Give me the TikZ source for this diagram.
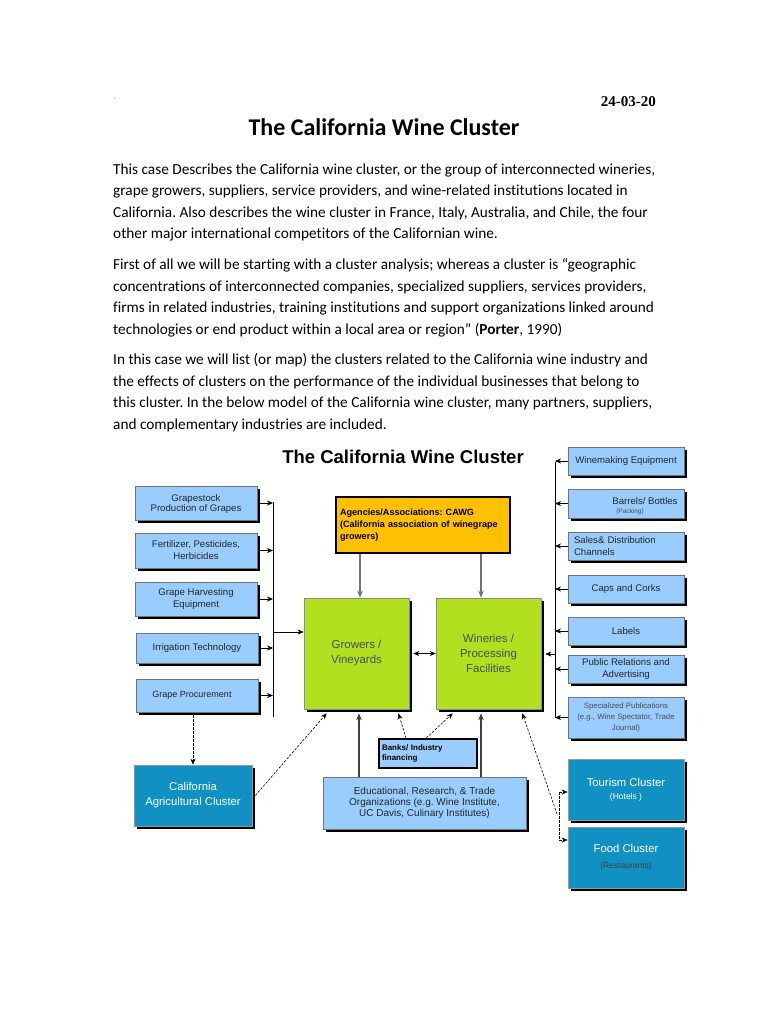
\documentclass[tikz,border=0pt]{standalone}
\usepackage{fontspec}
\setmainfont{Carlito}[Ligatures={NoCommon}]
\newfontfamily\arialf{Liberation Sans}
\newfontfamily\timesf{Liberation Serif}
\usetikzlibrary{shadows,arrows.meta,calc}
\definecolor{lblue}{HTML}{99CCFF}
\definecolor{tealc}{HTML}{1190C4}
\definecolor{lgreen}{HTML}{B0E01E}
\definecolor{orangec}{HTML}{FFC000}
\frenchspacing
\newcommand\bodyfont{\fontsize{15.3}{18}\selectfont}
\newcommand\bline[3]{\node[anchor=base west, inner sep=0pt, font=\bodyfont] (#1) at (113,#2) {#3};}
\tikzset{
  shad/.style={general shadow={fill=black, shadow xshift=3pt, shadow yshift=-3pt}},
  lb/.style={shad, draw=black!55, line width=0.6pt, fill=lblue, inner sep=0pt, align=center, text=black!85,
     font=\arialf\fontsize{9.6}{12}\selectfont},
  tl/.style={shad, draw=black!40, line width=0.6pt, fill=tealc, inner sep=0pt, align=center, text=white,
     font=\arialf\fontsize{11.3}{15}\selectfont},
  gbox/.style={shad, draw=black!45, line width=0.6pt, fill=lgreen, inner sep=0pt, align=center, text=black!70,
     font=\arialf\fontsize{11.5}{15}\selectfont},
  arr/.style={-{Stealth[length=6pt,width=5pt]}, line width=0.6pt},
  darr/.style={arr, dash pattern=on 2.5pt off 1.5pt},
  garr/.style={-{Stealth[length=7pt,width=5.5pt]}, draw=black!55, line width=1.1pt, fill=black!55},
  karr/.style={-{Stealth[length=7pt,width=5.5pt]}, draw=black!75, line width=1.1pt},
  txt/.style={inner sep=0pt}
}
\begin{document}
\begin{tikzpicture}[x=1pt,y=-1pt]
\useasboundingbox[fill=white] (0,0) rectangle (768,1024);

% header
\node[txt, font=\fontsize{7}{8}\selectfont, text=black!60] (tick) at (115,100) {`};
\node[txt, anchor=base east, font=\timesf\bfseries\fontsize{15}{17}\selectfont] (date) at (656,107) {24-03-20};
\node[txt, anchor=base, font=\bfseries\fontsize{24}{28}\selectfont] (title) at (384,136) {The California Wine Cluster};

% paragraph 1
\bline{p1a}{174.5}{This case Describes the California wine cluster, or the group of interconnected wineries,}
\bline{p1b}{196}{grape growers, suppliers, service providers, and wine-related institutions located in}
\bline{p1c}{217.5}{California. Also describes the wine cluster in France, Italy, Australia, and Chile, the four}
\bline{p1d}{239}{other major international competitors of the Californian wine.}
% paragraph 2
\bline{p2a}{269.5}{First of all we will be starting with a cluster analysis; whereas a cluster is “geographic}
\bline{p2b}{291}{concentrations of interconnected companies, specialized suppliers, services providers,}
\bline{p2c}{312.5}{firms in related industries, training institutions and support organizations linked around}
\bline{p2d}{334}{technologies or end product within a local area or region” (\textbf{Porter}, 1990)}
% paragraph 3
\bline{p3a}{364.5}{In this case we will list (or map) the clusters related to the California wine industry and}
\bline{p3b}{386}{the effects of clusters on the performance of the individual businesses that belong to}
\bline{p3c}{407.5}{this cluster. In the below model of the California wine cluster, many partners, suppliers,}
\bline{p3d}{429}{and complementary industries are included.}

% diagram title
\node[txt, anchor=base, font=\arialf\bfseries\fontsize{18.5}{22}\selectfont] (dtitle) at (403,463) {The California Wine Cluster};

% left boxes
\node[lb, minimum width=122pt, minimum height=34pt] (grape) at (196,503) {\rule{0pt}{8pt}Grapestock\\[-2pt]Production of Grapes};
\node[lb, minimum width=122pt, minimum height=35pt] (fert) at (196,550.5) {Fertilizer, Pesticides,\\Herbicides};
\node[lb, minimum width=122pt, minimum height=34pt] (harv) at (196,599) {Grape Harvesting\\Equipment};
\node[lb, minimum width=122pt, minimum height=30pt] (irrig) at (197,648) {Irrigation Technology};
\node[lb, minimum width=122pt, minimum height=33pt, font=\arialf\fontsize{9}{11}\selectfont] (procure) at (197,695.5) {Grape Procurement\hspace*{10pt}};
\node[tl, minimum width=118pt, minimum height=61pt] (ag) at (193,795.5) {California\\Agricultural Cluster};

% centre
\node[draw=black, line width=2pt, fill=orangec, minimum width=174pt, minimum height=56pt, inner sep=0pt,
      align=left, text width=166pt, font=\arialf\bfseries\fontsize{9.1}{12}\selectfont] (agencies) at (423,525)
      {Agencies/Associations: CAWG\\(California association of winegrape\\growers)\\[3pt]};
\node[gbox, minimum width=105pt, minimum height=111pt] (growers) at (356.5,653.5) {Growers /\\Vineyards};
\node[gbox, minimum width=105pt, minimum height=111pt] (wineries) at (488.5,653.5) {Wineries /\\Processing\\Facilities};
\node[draw=black, line width=1.8pt, fill=lblue, minimum width=98pt, minimum height=29pt, inner sep=0pt,
      align=left, text width=92pt, font=\arialf\bfseries\fontsize{8}{10}\selectfont] (banks) at (428,753.5)
      {Banks/ Industry\\financing};
\node[lb, minimum width=203pt, minimum height=52pt, font=\arialf\fontsize{10}{11.3}\selectfont] (educ) at (424.5,803)
      {Educational, Research, \& Trade\\Organizations (e.g. Wine Institute,\\UC Davis, Culinary Institutes)};

% right boxes
\node[lb, minimum width=116pt, minimum height=28pt] (wme) at (626,461) {Winemaking Equipment};
\node[lb, minimum width=116pt, minimum height=29pt] (barrels) at (626,503.5) {};
\node[txt, font=\arialf\fontsize{9.6}{11}\selectfont, text=black!85] (barrelsT) at (645,501) {Barrels/ Bottles};
\node[txt, font=\arialf\fontsize{6.5}{7}\selectfont, text=black!70] (packT) at (630,512) {(Packing)};
\node[lb, minimum width=116pt, minimum height=28pt, align=left, text width=104pt] (sales) at (626,546) {Sales\& Distribution\\Channels};
\node[lb, minimum width=116pt, minimum height=28pt] (caps) at (626,589) {Caps and Corks};
\node[lb, minimum width=116pt, minimum height=28pt] (labels) at (626,631) {Labels};
\node[lb, minimum width=116pt, minimum height=28pt, font=\arialf\fontsize{9.6}{11.5}\selectfont] (pr) at (626,669) {Public Relations and\\Advertising};
\node[lb, minimum width=116pt, minimum height=41pt, text=black!70, font=\arialf\fontsize{7.8}{11}\selectfont] (spec) at (626,717.5)
      {Specialized Publications\\(e.g., Wine Spectator, Trade\\Journal)};
\node[tl, minimum width=116pt, minimum height=61pt] (tourism) at (626,789.5)
      {Tourism Cluster\\[-2pt]{\fontsize{8.5}{10}\selectfont (Hotels )}};
\node[tl, minimum width=116pt, minimum height=61pt] (food) at (626,857.5)
      {Food Cluster\\[1pt]{\fontsize{8.5}{10}\selectfont\color{black!75}(Restaurants)}};

% left connector
\coordinate (lt) at (273,502);
\coordinate (lbt) at (273,717);
\coordinate (gIn) at (273,632);
\draw[line width=0.6pt] (lt) -- (lbt);
\foreach \b in {grape,fert,harv,irrig,procure}
  \draw[arr] ($(\b.east)+(3,0)$) -- (\b.east -| lt);
\draw[arr] (gIn) -- (gIn -| growers.west);

% right connector
\coordinate (rt) at (555,462);
\coordinate (rbt) at (555,718);
\coordinate (wIn) at (555,654);
\draw[line width=0.6pt] (rt) -- (rbt);
\foreach \b in {wme,barrels,sales,caps,labels,pr,spec}
  \draw[arr] (\b.west) -- (\b.west -| rt);
\draw[arr] (wIn) -- ($(wIn -| wineries.east)+(4,0)$);

% centre connectors
\draw[{Stealth[length=6pt,width=5pt]}-{Stealth[length=6pt,width=5pt]}, line width=0.6pt] ($(growers.east)+(4,0)$) -- (wineries.west);
\draw[garr] ($(agencies.south -| growers.north)+(3.5,0)$) -- ($(growers.north)+(3.5,0)$);
\draw[garr] ($(agencies.south -| wineries.north)+(-7.5,0)$) -- ($(wineries.north)+(-7.5,0)$);
\draw[karr] ($(educ.north -| growers.south)+(2.5,0)$) -- ($(growers.south)+(2.5,4)$);
\draw[karr] ($(educ.north -| wineries.south)+(-7.5,0)$) -- ($(wineries.south)+(-7.5,4)$);
\draw[darr] ($(banks.north west)+(28,0)$) -- ($(growers.south east)+(-11,4)$);
\draw[darr] ($(banks.north west)+(48,0)$) -- ($(wineries.south west)+(17,4)$);
\draw[darr] ($(ag.east)+(3,0)$) -- ($(growers.south west)+(23,4)$);
\draw[darr] ($(procure.south -| ag.north)+(0,3)$) -- (ag.north);

% tourism / food
\coordinate (tIn) at (559,792);
\coordinate (fIn) at (559,840);
\coordinate (wD) at (557,814);
\draw[line width=0.6pt, dash pattern=on 2.5pt off 1.5pt] (tIn) -- (fIn);
\draw[darr] (tIn) -- (tIn -| tourism.west);
\draw[darr] (fIn) -- (fIn -| food.west);
\draw[darr] (wD) -- ($(wineries.south east)+(-19,4)$);
\end{tikzpicture}
\end{document}
